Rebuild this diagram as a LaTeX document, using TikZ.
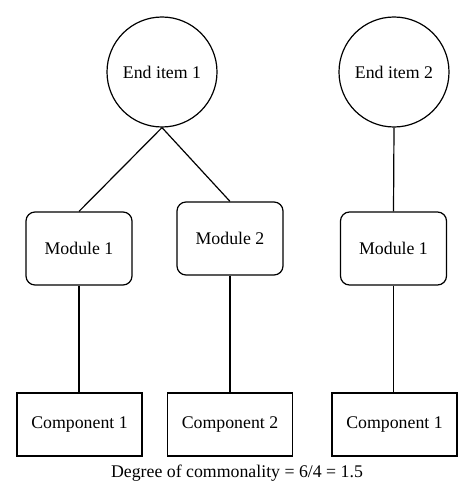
\documentclass[tikz,border=0pt]{standalone}
\usepackage{fontspec}
\setmainfont{Liberation Serif}
\begin{document}
\begin{tikzpicture}[x=1pt,y=-1pt,
  every node/.style={font=\fontsize{17.8}{21}\selectfont, inner sep=0pt},
  enditem/.style={draw, circle, line width=1.2pt, minimum size=110pt},
  modbox/.style={draw, rounded corners=9pt, line width=1.2pt, minimum width=106pt, minimum height=73pt},
  compbox/.style={draw, line width=1.2pt, minimum width=125pt, minimum height=63pt},
  link/.style={line width=1.2pt}]
\useasboundingbox (0,0) rectangle (474,500);
\node[enditem] (e1) at (162,72) {End item 1};
\node[enditem] (e2) at (394,72) {End item 2};
\node[modbox] (m1) at (79,248.5) {Module 1};
\node[modbox] (m2) at (230,238.5) {Module 2};
\node[modbox] (m3) at (393.5,248.5) {Module 1};
\node[compbox] (c1) at (79.5,424.5) {Component 1};
\node[compbox] (c2) at (230,424.5) {Component 2};
\node[compbox] (c3) at (394.5,424.5) {Component 1};
\node (cap) at (237,473) {Degree of commonality = 6/4 = 1.5};
\draw[link] (e1.south) -- (m1.north);
\draw[link] (e1.south) -- (m2.north);
\draw[link] (e2.south) -- (m3.north);
\draw[link] (m1.south) -- (c1.north -| m1.south);
\draw[link] (m2.south) -- (c2.north -| m2.south);
\draw[link] (m3.south) -- (c3.north -| m3.south);
\end{tikzpicture}
\end{document}
